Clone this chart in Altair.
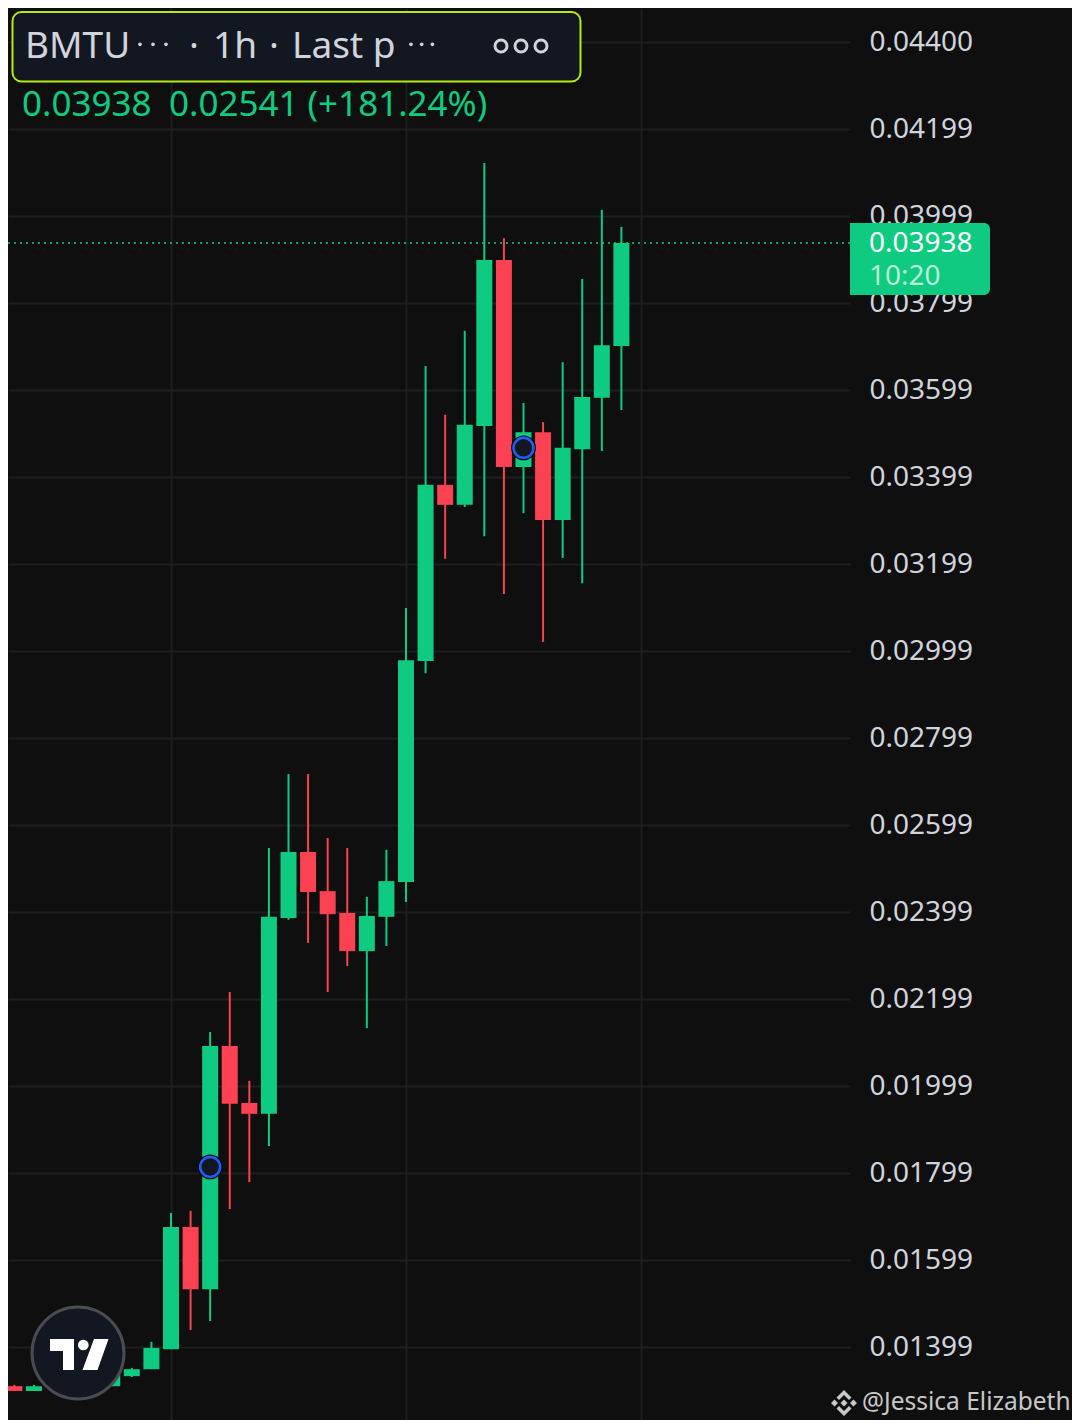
import json
import altair as alt
import pandas as pd

# ---------------- data ----------------
bar_index = list(range(33))  # hourly candles, left to right
opens = [0.01319, 0.01310, 0.01299, 0.01313, 0.01308, 0.01313, 0.01310, 0.01333, 0.01349,
         0.01395, 0.01676, 0.01533, 0.02092, 0.01961, 0.01936, 0.02386, 0.02538, 0.02448,
         0.02398, 0.02310, 0.02389, 0.02469, 0.02977, 0.03382, 0.03336, 0.03517, 0.03899,
         0.03423, 0.03503, 0.03301, 0.03464, 0.03582, 0.03701]
highs = [0.01320, 0.01313, 0.01313, 0.01313, 0.01313, 0.01320, 0.01343, 0.01352, 0.01412,
         0.01708, 0.01713, 0.02124, 0.02216, 0.02012, 0.02547, 0.02717, 0.02717, 0.02570,
         0.02547, 0.02435, 0.02543, 0.03099, 0.03655, 0.03543, 0.03736, 0.04122, 0.03949,
         0.03570, 0.03526, 0.03664, 0.03855, 0.04014, 0.03975]
lows = [0.01311, 0.01299, 0.01299, 0.01303, 0.01303, 0.01308, 0.01310, 0.01331, 0.01349,
        0.01395, 0.01439, 0.01460, 0.01717, 0.01779, 0.01862, 0.02382, 0.02329, 0.02216,
        0.02276, 0.02133, 0.02322, 0.02423, 0.02949, 0.03212, 0.03331, 0.03264, 0.03131,
        0.03317, 0.03021, 0.03214, 0.03156, 0.03460, 0.03554]
closes = [0.01313, 0.01299, 0.01310, 0.01308, 0.01313, 0.01315, 0.01336, 0.01349, 0.01398,
          0.01676, 0.01533, 0.02092, 0.01959, 0.01936, 0.02389, 0.02538, 0.02446, 0.02395,
          0.02310, 0.02391, 0.02471, 0.02979, 0.03382, 0.03336, 0.03520, 0.03899, 0.03423,
          0.03503, 0.03301, 0.03467, 0.03584, 0.03703, 0.03938]

tick_values = [0.014, 0.016, 0.018, 0.020, 0.022, 0.024, 0.026, 0.028, 0.030,
               0.032, 0.034, 0.036, 0.038, 0.040, 0.042, 0.044]
tick_labels = ["0.01399", "0.01599", "0.01799", "0.01999", "0.02199", "0.02399",
               "0.02599", "0.02799", "0.02999", "0.03199", "0.03399", "0.03599",
               "0.03799", "0.03999", "0.04199", "0.04400"]
grid_bars = [9, 21, 33]  # vertical grid every 12 hours

event_index = [11, 27]
event_price = [0.01814, 0.03467]

symbol_name = "BMTU"
separator = "·"
interval = "1h"
price_source = "Last p"
last_price_text = "0.03938"
change_text = "0.02541 (+181.24%)"
countdown_text = "10:20"
watermark_text = "@Jessica Elizabeth"

# ---------------- styling ----------------
GREEN = "#0ecb81"
RED = "#fb4252"
BG = "#0f0f0f"
GRID = "#1e1e1e"
TXT = "#d1d4dc"
FONT = "Noto Sans"
W, H = 842, 1412

df = pd.DataFrame({"i": bar_index, "open": opens, "high": highs,
                   "low": lows, "close": closes})
df["dir"] = ["up" if c >= o else "down" for o, c in zip(opens, closes)]
ev = pd.DataFrame({"i": event_index, "p": event_price})
one = pd.DataFrame({"k": [0]})

xs = alt.Scale(domain=[0.6764, 43.673], nice=False, zero=False, padding=0)
ys = alt.Scale(domain=[0.012322, 0.044782], nice=False, zero=False, padding=0)
cs = alt.Scale(domain=["up", "down"], range=[GREEN, RED])

label_expr = json.dumps(tick_labels) + "[round((datum.value - 0.014) / 0.002)]"

x_axis = alt.Axis(values=grid_bars, labels=False, ticks=False, domain=False,
                  grid=True, gridColor=GRID, gridWidth=2, title=None)
y_axis = alt.Axis(orient="right", values=tick_values, labelExpr=label_expr,
                  labelFont=FONT, labelFontSize=28, labelColor=TXT,
                  labelPadding=19, ticks=False, domain=False, grid=True,
                  gridColor=GRID, gridWidth=2, title=None, labelOverlap=False)

base = alt.Chart(df)

wicks = base.mark_rule(strokeWidth=2, clip=True).encode(
    x=alt.X("i:Q", scale=xs, axis=x_axis),
    y=alt.Y("low:Q", scale=ys, axis=y_axis),
    y2="high:Q",
    color=alt.Color("dir:N", scale=cs, legend=None),
)
bodies = base.mark_bar(size=16, clip=True).encode(
    x=alt.X("i:Q", scale=xs),
    y=alt.Y("open:Q", scale=ys),
    y2="close:Q",
    color=alt.Color("dir:N", scale=cs, legend=None),
)

halo = alt.Chart(ev).mark_point(filled=True, size=620, color="#05070d", opacity=1).encode(
    x=alt.X("i:Q", scale=xs), y=alt.Y("p:Q", scale=ys))
ring = alt.Chart(ev).mark_point(filled=True, size=400, fill="#131722", stroke="#1f5eff",
                                strokeWidth=2.5, opacity=1).encode(
    x=alt.X("i:Q", scale=xs), y=alt.Y("p:Q", scale=ys))

price_line = alt.Chart(one).mark_rule(strokeDash=[2, 4], strokeWidth=1.5, color=GREEN).encode(
    y=alt.Y(datum=closes[-1], scale=ys), x=alt.value(0), x2=alt.value(W))

price_box = alt.Chart(one).mark_rect(color=GREEN, cornerRadiusTopRight=6,
                                     cornerRadiusBottomRight=6).encode(
    x=alt.value(842), x2=alt.value(982), y=alt.value(215), y2=alt.value(287))
price_txt = alt.Chart(one).mark_text(align="left", baseline="middle", font=FONT,
                                     fontSize=28, color="#ffffff").encode(
    x=alt.value(861), y=alt.value(236), text=alt.value(last_price_text))
count_txt = alt.Chart(one).mark_text(align="left", baseline="middle", font=FONT,
                                     fontSize=28, color="#b9f0d8").encode(
    x=alt.value(861), y=alt.value(269), text=alt.value(countdown_text))


def label(text, x, y, size, color=TXT, align="left", baseline="alphabetic", weight="normal"):
    return alt.Chart(one).mark_text(align=align, baseline=baseline, font=FONT,
                                    fontSize=size, color=color, fontWeight=weight).encode(
        x=alt.value(x), y=alt.value(y), text=alt.value(text))


def glyph(path, x, y, color=TXT, filled=True, stroke_width=1):
    return alt.Chart(one).mark_point(shape=path, size=4, filled=filled, color=color,
                                     strokeWidth=stroke_width, opacity=1).encode(
        x=alt.value(x), y=alt.value(y))


def dots(gap, r=1.9):
    parts = []
    for c in (-gap, 0, gap):
        parts.append(f"M{c - r},0 a{r},{r} 0 1,0 {2 * r},0 a{r},{r} 0 1,0 {-2 * r},0 Z")
    return " ".join(parts)


legend_box = alt.Chart(one).mark_rect(fill="#131722", stroke="#b2ec14", strokeWidth=2,
                                      cornerRadius=9).encode(
    x=alt.value(4.5), x2=alt.value(572.5), y=alt.value(4), y2=alt.value(73.5))
t_name = label(symbol_name, 17, 49.5, 37)
t_ell1 = glyph(dots(13), 145, 36.3)
t_sep1 = label(separator, 186, 49.5, 37, align="center")
t_int = label(interval, 205, 49.5, 37)
t_sep2 = label(separator, 266, 49.5, 37, align="center")
t_src = label(price_source, 284, 49.5, 37)
t_ell2 = glyph(dots(10.7), 413.7, 36.3)
rings_path = ("M-26,0 a6,6 0 1,0 12,0 a6,6 0 1,0 -12,0 "
              "M-6,0 a6,6 0 1,0 12,0 a6,6 0 1,0 -12,0 "
              "M14,0 a6,6 0 1,0 12,0 a6,6 0 1,0 -12,0")
menu = glyph(rings_path, 513, 38, filled=False, stroke_width=3)
v_last = label(last_price_text, 14, 97, 35, color=GREEN, baseline="middle")
v_change = label(change_text, 161, 97, 35, color=GREEN, baseline="middle")

# TradingView logo badge (bottom-left)
logo_circle = alt.Chart(one).mark_point(shape="circle", size=8464, filled=True,
                                        fill="#131722", stroke="#4a4c52",
                                        strokeWidth=3, opacity=1).encode(
    x=alt.value(70), y=alt.value(1345))
tv_path = ("M-28,-14 L-4,-14 L-4,17 L-15,17 L-15,-2 L-28,-2 Z "
           "M16,-14 L30.5,-14 L19.5,17 L4.5,17 Z")
logo_shape = glyph(tv_path, 70, 1345, color="#ffffff")
logo_dot = alt.Chart(one).mark_point(shape="circle", size=115, filled=True,
                                     color="#ffffff", opacity=1).encode(
    x=alt.value(75.3), y=alt.value(1337))

# watermark (bottom-right)
bn_path = ("M0,-3.5 L3.5,0 L0,3.5 L-3.5,0 Z "
           "M-9.5,-3.5 L-6,0 L-9.5,3.5 L-13,0 Z "
           "M9.5,-3.5 L13,0 L9.5,3.5 L6,0 Z "
           "M0,-13 L7.5,-5.5 L5,-3 L0,-8 L-5,-3 L-7.5,-5.5 Z "
           "M0,13 L7.5,5.5 L5,3 L0,8 L-5,3 L-7.5,5.5 Z")
bn_logo = glyph(bn_path, 836, 1395, color="#c8c8c8")
wm_txt = label(watermark_text, 854, 1395, 24.5, color="#c8c8c8", baseline="middle")

chart = alt.layer(
    wicks, bodies, halo, ring, price_line, price_box, price_txt, count_txt,
    legend_box, t_name, t_ell1, t_sep1, t_int, t_sep2, t_src, t_ell2, menu,
    v_last, v_change,
    logo_circle, logo_shape, logo_dot, bn_logo, wm_txt,
).properties(
    width=W, height=H,
    autosize=alt.AutoSizeParams(type="none"),
    padding={"left": 0, "top": 0, "right": 222, "bottom": 0},
    background=BG,
).configure_view(stroke=None)

chart.save("out.html", embed_options={"renderer": "svg", "actions": False})
